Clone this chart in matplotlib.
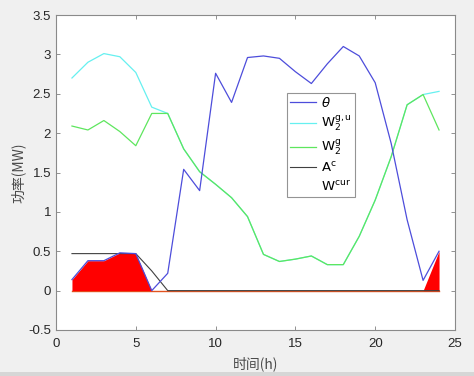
import matplotlib
matplotlib.use("Agg")
import matplotlib.pyplot as plt
from matplotlib.lines import Line2D
from matplotlib.patches import Rectangle

hours = list(range(1, 25))
theta = [0.14, 0.38, 0.38, 0.48, 0.47, 0.0, 0.22, 1.54, 1.27, 2.76, 2.39, 2.96,
         2.98, 2.95, 2.78, 2.63, 2.88, 3.10, 2.98, 2.64, 1.87, 0.90, 0.13, 0.50]
w_gu = [2.70, 2.90, 3.01, 2.97, 2.77, 2.33, 2.25, 1.80, 1.51, 1.35, 1.18, 0.94,
        0.46, 0.37, 0.40, 0.44, 0.33, 0.33, 0.69, 1.15, 1.70, 2.36, 2.49, 2.53]
w_g = [2.09, 2.04, 2.16, 2.02, 1.84, 2.25, 2.25, 1.80, 1.51, 1.35, 1.18, 0.94,
       0.46, 0.37, 0.40, 0.44, 0.33, 0.33, 0.69, 1.15, 1.70, 2.36, 2.49, 2.04]
a_c = [0.47, 0.47, 0.47, 0.47, 0.47, 0.25, 0.0, 0.0, 0.0, 0.0, 0.0, 0.0,
       0.0, 0.0, 0.0, 0.0, 0.0, 0.0, 0.0, 0.0, 0.0, 0.0, 0.0, 0.0]
w_cur = [0.14, 0.38, 0.38, 0.48, 0.47, 0.0, 0.0, 0.0, 0.0, 0.0, 0.0, 0.0,
         0.0, 0.0, 0.0, 0.0, 0.0, 0.0, 0.0, 0.0, 0.0, 0.0, 0.0, 0.50]
base = [0.0] * 24

labels = [r'$\theta$', r'$\mathrm{W}_\mathrm{2}^\mathrm{g,u}$', r'$\mathrm{W}_\mathrm{2}^\mathrm{g}$',
          r'$\mathrm{A}^\mathrm{c}$', r'$\mathrm{W}^\mathrm{cur}$']

plt.rcParams['font.family'] = ['Liberation Sans', 'Noto Sans CJK SC', 'DejaVu Sans']
plt.rcParams['mathtext.fontset'] = 'dejavusans'

fig = plt.figure(figsize=(4.74, 3.76), dpi=100, facecolor='#f0f0f0')
fig.patches.append(Rectangle((0, 0), 1, 4 / 376, transform=fig.transFigure,
                             facecolor='#d6d6d6', edgecolor='none', zorder=0))
ax = fig.add_axes([56 / 474, 46 / 376, 399 / 474, 315 / 376])
ax.set_facecolor('white')

ax.plot(hours, base, color='#e2531f', lw=1.0, zorder=1)
ax.fill_between(hours, 0, w_cur, color='#ff0000', lw=0, zorder=2)
l1, = ax.plot(hours, theta, color='#4d4ddb', lw=0.9, zorder=5)
l2, = ax.plot(hours, w_gu, color='#66f0f0', lw=0.9, zorder=3)
l3, = ax.plot(hours, w_g, color='#5ee65e', lw=0.9, zorder=4)
l4, = ax.plot(hours, a_c, color='#404040', lw=0.8, zorder=3)
l5 = Line2D([], [], color='none')

ax.set_xlim(0, 25)
ax.set_ylim(-0.5, 3.5)
ax.set_xticks([0, 5, 10, 15, 20, 25])
ax.set_yticks([-0.5, 0, 0.5, 1, 1.5, 2, 2.5, 3, 3.5])
ax.set_yticklabels(['-0.5', '0', '0.5', '1', '1.5', '2', '2.5', '3', '3.5'])
ax.tick_params(direction='in', top=True, right=True, length=3, width=0.6,
               colors='#808080', labelcolor='#262626', labelsize=9.5)
ax.tick_params(axis='x', pad=6)
for s in ax.spines.values():
    s.set_color('#8a8a8a')
    s.set_linewidth(0.8)

ax.set_xlabel('时间(h)', family=['Noto Sans CJK SC', 'DejaVu Sans'], fontsize=10,
              color='#4a4a4a', labelpad=4)
ax.set_ylabel('功率(MW)', family=['Noto Sans CJK SC', 'DejaVu Sans'], fontsize=10,
              color='#4a4a4a', labelpad=2)

leg = ax.legend([l1, l2, l3, l4, l5], labels, loc='upper left',
                bbox_to_anchor=(0.578, 0.752), borderaxespad=0, fontsize=9.5,
                frameon=True, fancybox=False, edgecolor='#7a7a7a',
                handlelength=2.0, handletextpad=0.4, borderpad=0.22,
                labelspacing=0.32)
leg.get_frame().set_linewidth(0.8)

fig.savefig('out.png', dpi=100, facecolor=fig.get_facecolor())
